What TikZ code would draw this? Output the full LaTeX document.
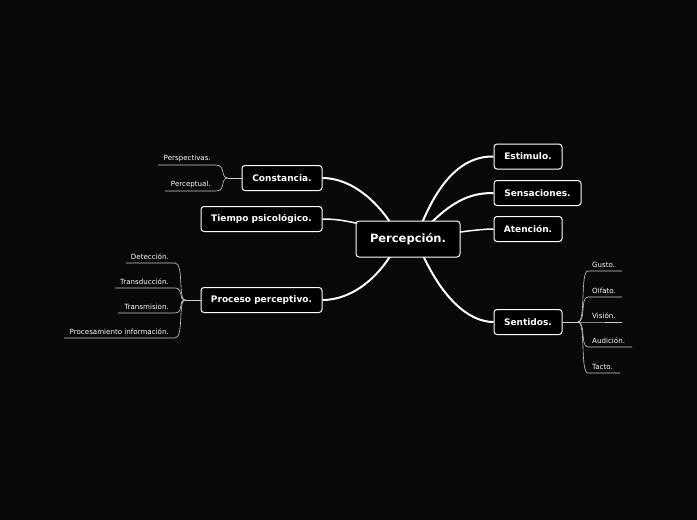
\documentclass[tikz,border=0pt]{standalone}
\usepackage{fontspec}
\setmainfont{DejaVu Sans}
\usetikzlibrary{backgrounds}
\begin{document}
\begin{tikzpicture}[x=1pt,y=-1pt,
  topic/.style={draw=white,line width=1pt,rounded corners=3pt,fill=black,text=white,font=\bfseries\fontsize{9}{11}\selectfont,inner sep=0pt,minimum height=25pt},
  leaf/.style={text=white,font=\fontsize{7.1}{8}\selectfont,inner sep=1pt,anchor=south west},
  main/.style={line width=2pt,draw=white},
  sub/.style={line width=0.6pt,draw=white!80!black}]
\node[topic,minimum width=104pt,minimum height=36pt,font=\bfseries\fontsize{11.5}{13}\selectfont] (c) at (408,239) {Percepción.};
\node[topic,minimum width=68pt] (est) at (528,156.5) {Estimulo.};
\node[topic,minimum width=87pt] (sen) at (537.5,193) {Sensaciones.};
\node[topic,minimum width=68pt] (ate) at (528,229) {Atención.};
\node[topic,minimum width=68pt] (sent) at (528,322) {Sentidos.};
\node[topic,minimum width=80pt] (con) at (282,178) {Constancia.};
\node[topic,minimum width=121pt] (tie) at (261.5,219) {Tiempo psicológico.};
\node[topic,minimum width=121pt] (pro) at (261.5,300) {Proceso perceptivo.};
\begin{scope}[on background layer]
\fill[black!97!white] (0,0) rectangle (697,520);
\draw[main] (c.center) ++(8,0) .. controls (440,170) and (470,156) .. (est.west);
\draw[main] (c.center) ++(8,0) .. controls (450,200) and (470,193) .. (sen.west);
\draw[main,line width=1.5pt] (c.center) .. controls (460,232) and (480,229) .. (ate.west);
\draw[main] (c.center) ++(8,0) .. controls (440,300) and (470,322) .. (sent.west);
\draw[main] (c.center) ++(-8,0) .. controls (380,200) and (350,178) .. (con.east);
\draw[main,line width=1.5pt] (c.center) .. controls (360,222) and (340,219) .. (tie.east);
\draw[main] (c.center) ++(-8,0) .. controls (380,280) and (350,300) .. (pro.east);
\end{scope}
% Sentidos leaves
\coordinate (sb) at (578,322);
\draw[sub] (sent.east) -- (sb);
\foreach \t/\y/\e in {Gusto./271/622, Olfato./297/622, Visión./322/622, Audición./347/632, Tacto./373/620}{
  \draw[sub] (sb) .. controls (586,322) and (580,\y) .. (588,\y) -- (\e,\y);
  \node[leaf] at (591,\y-2) {\t};
}
% Constancia leaves
\coordinate (cb) at (228,178);
\draw[sub] (con.west) -- (cb);
\draw[sub] (cb) .. controls (220,178) and (226,165) .. (216,165) -- (158,165);
\node[leaf,anchor=south east] at (212,163) {Perspectivas.};
\draw[sub] (cb) .. controls (220,178) and (226,191) .. (216,191) -- (165,191);
\node[leaf,anchor=south east] at (212,189) {Perceptual.};
% Proceso leaves
\coordinate (pb) at (185,300);
\draw[sub] (pro.west) -- (pb);
\foreach \t/\y/\s in {Detección./263/126, Transducción./288/115, Transmision./313/118, Procesamiento información./338/64}{
  \draw[sub] (pb) .. controls (178,300) and (184,\y) .. (175,\y) -- (\s,\y);
  \node[leaf,anchor=south east] at (170,\y-2) {\t};
}
\end{tikzpicture}
\end{document}
